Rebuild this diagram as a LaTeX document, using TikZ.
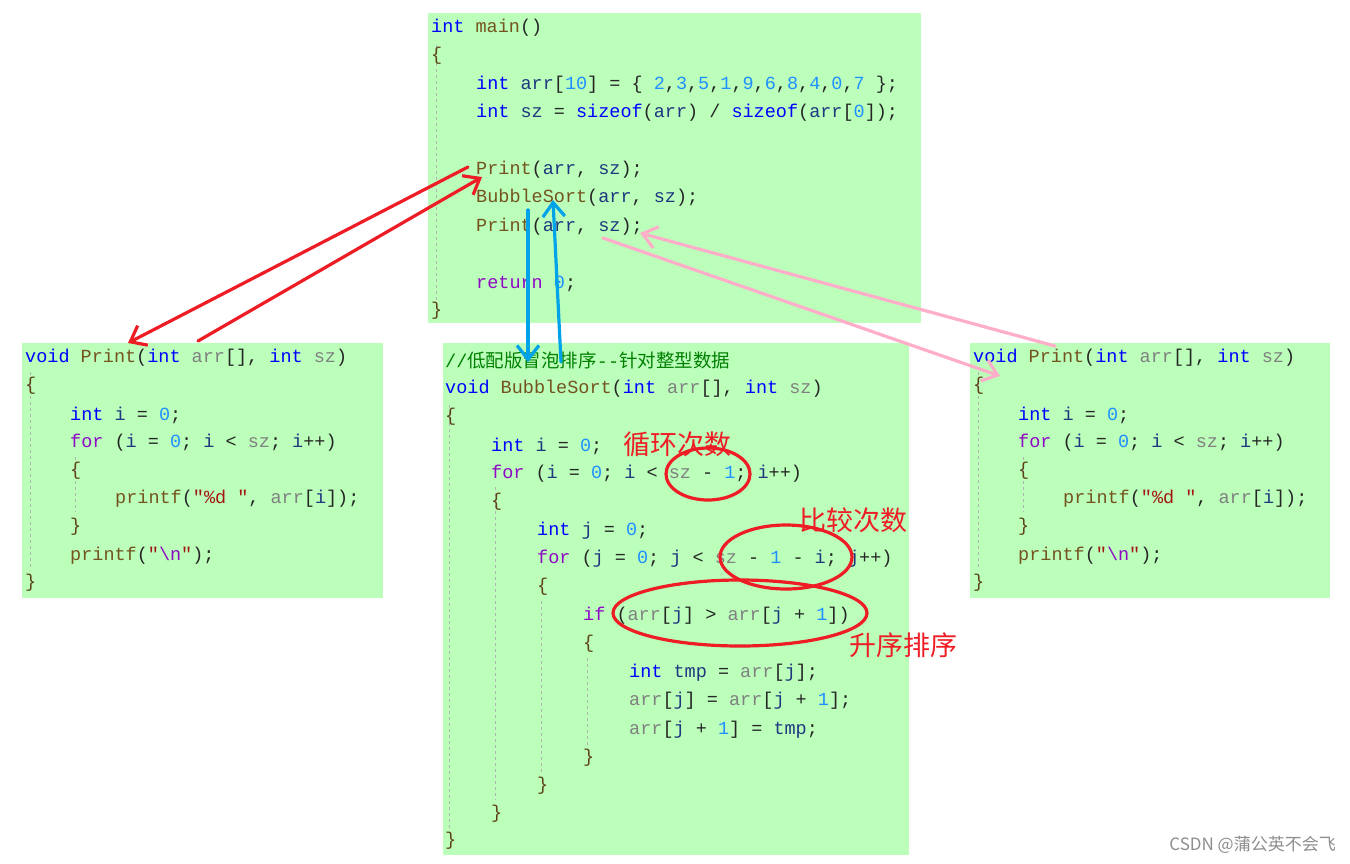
\documentclass[tikz,border=0pt]{standalone}
\usepackage{fontspec}
\setmonofont{Liberation Mono}
\newfontfamily\cjk{Noto Sans CJK SC}
\usetikzlibrary{arrows.meta}
\definecolor{boxgreen}{HTML}{BBFFBB}
\definecolor{kwblue}{HTML}{0000FF}
\definecolor{ctpurple}{HTML}{8F08C4}
\definecolor{fnbrown}{HTML}{74531F}
\definecolor{pagray}{HTML}{808080}
\definecolor{nmblue}{HTML}{1E90FF}
\definecolor{lvnavy}{HTML}{1F377F}
\definecolor{cmgreen}{HTML}{008000}
\definecolor{strred}{HTML}{A31515}
\definecolor{penred}{HTML}{EE1C25}
\definecolor{penblue}{HTML}{00A2E8}
\definecolor{penpink}{HTML}{FFAEC9}
\newcommand\kw[1]{\textcolor{kwblue}{#1}}
\newcommand\ct[1]{\textcolor{ctpurple}{#1}}
\newcommand\fn[1]{\textcolor{fnbrown}{#1}}
\newcommand\pa[1]{\textcolor{pagray}{#1}}
\newcommand\nm[1]{\textcolor{nmblue}{#1}}
\newcommand\lv[1]{\textcolor{lvnavy}{#1}}
\newcommand\st[1]{\textcolor{strred}{#1}}
\newcommand\cm[1]{\textcolor{cmgreen}{#1}}
\newcommand\br[1]{\textcolor{fnbrown!80!black}{#1}}
\tikzset{
  codebox/.style={fill=boxgreen, draw=none},
  codeln/.style={anchor=west, inner sep=0pt, font=\ttfamily\fontsize{18.5}{20}\selectfont, text=black!85},
  guide/.style={draw=pagray!60, dashed, line width=0.8pt},
  pen/.style={line width=3.2pt, line cap=round, -{Straight Barb[length=14pt, width=22pt]}},
  note/.style={text=penred, font=\cjk\fontsize{27}{30}\selectfont, inner sep=0pt},
  loop/.style={draw=penred, line width=3.2pt}
}
\begin{document}
\begin{tikzpicture}[x=1pt, y=-1pt]
    \useasboundingbox (0,0) rectangle (1350,863);

    % boxes
    \fill[codebox] (428,13) rectangle (921,323);
    \fill[codebox] (22,343) rectangle (383,598);
    \fill[codebox] (443,343) rectangle (909,855);
    \fill[codebox] (970,343) rectangle (1330,598);

    % indent guides
    \draw[guide] (436,45) -- (436,300);
    \draw[guide] (30,372) -- (30,570);
    \draw[guide] (75,457) -- (75,512);
    \draw[guide] (449,405) -- (449,830);
    \draw[guide] (495,487) -- (495,800);
    \draw[guide] (541,601) -- (541,773);
    \draw[guide] (587,658) -- (587,745);
    \draw[guide] (978,372) -- (978,570);
    \draw[guide] (1023,457) -- (1023,512);

    % main
    \node[codeln] (m1) at (431,28) {\kw{int} \fn{main}()};
    \node[codeln] (m2) at (431,56) {\br{\{}};
    \node[codeln] (m3) at (476,85) {\kw{int} \lv{arr}[\nm{10}] = \{ \nm{2},\nm{3},\nm{5},\nm{1},\nm{9},\nm{6},\nm{8},\nm{4},\nm{0},\nm{7} \};};
    \node[codeln] (m4) at (476,113) {\kw{int} \lv{sz} = \kw{sizeof}(\lv{arr}) / \kw{sizeof}(\lv{arr}[\nm{0}]);};
    \node[codeln] (m5) at (476,170) {\fn{Print}(\lv{arr}, \lv{sz});};
    \node[codeln] (m6) at (476,198) {\fn{BubbleSort}(\lv{arr}, \lv{sz});};
    \node[codeln] (m7) at (476,227) {\fn{Print}(\lv{arr}, \lv{sz});};
    \node[codeln] (m8) at (476,284) {\ct{return} \nm{0};};
    \node[codeln] (m9) at (431,311) {\br{\}}};

    % left Print
    \node[codeln] (p1) at (25,358) {\kw{void} \fn{Print}(\kw{int} \pa{arr}[], \kw{int} \pa{sz})};
    \node[codeln] (p2) at (25,386) {\br{\{}};
    \node[codeln] (p3) at (70,415) {\kw{int} \lv{i} = \nm{0};};
    \node[codeln] (p4) at (70,443) {\ct{for} (\lv{i} = \nm{0}; \lv{i} < \pa{sz}; \lv{i}++)};
    \node[codeln] (p5) at (70,471) {\br{\{}};
    \node[codeln] (p6) at (115,499) {\fn{printf}(\st{"\%d "}, \pa{arr}[\lv{i}]);};
    \node[codeln] (p7) at (70,527) {\br{\}}};
    \node[codeln] (p8) at (70,556) {\fn{printf}(\st{"}\ct{\textbackslash n}\st{"});};
    \node[codeln] (p9) at (25,583) {\br{\}}};

    % right Print
    \node[codeln] (q1) at (973,358) {\kw{void} \fn{Print}(\kw{int} \pa{arr}[], \kw{int} \pa{sz})};
    \node[codeln] (q2) at (973,386) {\br{\{}};
    \node[codeln] (q3) at (1018,415) {\kw{int} \lv{i} = \nm{0};};
    \node[codeln] (q4) at (1018,443) {\ct{for} (\lv{i} = \nm{0}; \lv{i} < \pa{sz}; \lv{i}++)};
    \node[codeln] (q5) at (1018,471) {\br{\{}};
    \node[codeln] (q6) at (1063,499) {\fn{printf}(\st{"\%d "}, \pa{arr}[\lv{i}]);};
    \node[codeln] (q7) at (1018,527) {\br{\}}};
    \node[codeln] (q8) at (1018,556) {\fn{printf}(\st{"}\ct{\textbackslash n}\st{"});};
    \node[codeln] (q9) at (973,583) {\br{\}}};

    % BubbleSort
    \node[codeln] (b0) at (445,360) {\cm{//{\cjk 低配版冒泡排序}--{\cjk 针对整型数据}}};
    \node[codeln] (b1) at (445,389) {\kw{void} \fn{BubbleSort}(\kw{int} \pa{arr}[], \kw{int} \pa{sz})};
    \node[codeln] (b2) at (445,417) {\br{\{}};
    \node[codeln] (b3) at (491,446) {\kw{int} \lv{i} = \nm{0};};
    \node[codeln] (b4) at (491,474) {\ct{for} (\lv{i} = \nm{0}; \lv{i} < \pa{sz} - \nm{1}; \lv{i}++)};
    \node[codeln] (b5) at (491,502) {\br{\{}};
    \node[codeln] (b6) at (537,531) {\kw{int} \lv{j} = \nm{0};};
    \node[codeln] (b7) at (537,559) {\ct{for} (\lv{j} = \nm{0}; \lv{j} < \pa{sz} - \nm{1} - \lv{i}; \lv{j}++)};
    \node[codeln] (b8) at (537,587) {\br{\{}};
    \node[codeln] (b9) at (583,616) {\ct{if} (\pa{arr}[\lv{j}] > \pa{arr}[\lv{j} + \nm{1}])};
    \node[codeln] (b10) at (583,644) {\br{\{}};
    \node[codeln] (b11) at (629,673) {\kw{int} \lv{tmp} = \pa{arr}[\lv{j}];};
    \node[codeln] (b12) at (629,701) {\pa{arr}[\lv{j}] = \pa{arr}[\lv{j} + \nm{1}];};
    \node[codeln] (b13) at (629,730) {\pa{arr}[\lv{j} + \nm{1}] = \lv{tmp};};
    \node[codeln] (b14) at (583,758) {\br{\}}};
    \node[codeln] (b15) at (537,786) {\br{\}}};
    \node[codeln] (b16) at (491,814) {\br{\}}};
    \node[codeln] (b17) at (445,841) {\br{\}}};

    % pen marks
    \coordinate (r1s) at (468,167);
    \coordinate (r1e) at (128,343);
    \coordinate (r2s) at (198,341);
    \coordinate (r2e) at (482,177);
    \draw[pen, penred] (r1s) -- (r1e);
    \draw[pen, penred] (r2s) -- (r2e);

    \coordinate (u1s) at (528,210);
    \coordinate (u1e) at (528,362);
    \coordinate (u2s) at (561,362);
    \coordinate (u2e) at (553,200);
    \draw[pen, penblue] (u1s) -- (u1e);
    \draw[pen, penblue] (u2s) -- (u2e);

    \coordinate (k1s) at (603,238);
    \coordinate (k1e) at (1000,376);
    \coordinate (k2s) at (1055,346);
    \coordinate (k2e) at (640,233);
    \draw[pen, penpink] (k1s) -- (k1e);
    \draw[pen, penpink] (k2s) -- (k2e);

    % circled parts and notes
    \draw[loop] (708,474) ellipse [x radius=42, y radius=26];
    \draw[loop] (786,557) ellipse [x radius=66, y radius=32];
    \draw[loop] (740,613) ellipse [x radius=127, y radius=33];
    \node[note] (n1) at (677,444) {循环次数};
    \node[note] (n2) at (853,520) {比较次数};
    \node[note] (n3) at (903,645) {升序排序};

    \node[anchor=east, inner sep=0pt, text=pagray!90, font=\cjk\fontsize{17}{18}\selectfont] (wm) at (1336,845) {CSDN @蒲公英不会飞};
\end{tikzpicture}
\end{document}
